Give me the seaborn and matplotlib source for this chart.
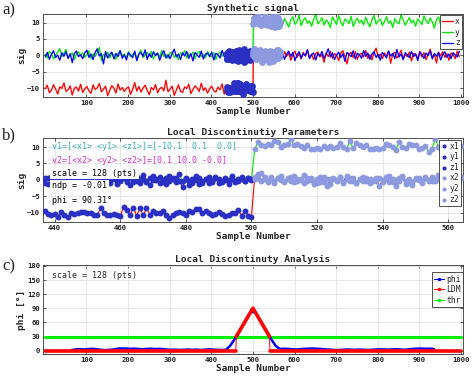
import numpy as np
import matplotlib
matplotlib.use("Agg")
import matplotlib.pyplot as plt
from matplotlib.lines import Line2D
import seaborn as sns

# ---------------- data ----------------
# panel a, outside the analysis windows (every 5th sample)
samples_left = np.arange(1, 436, 5)
samples_right = np.arange(566, 1001, 5)

x_left = [-10.2, -9.1, -11.4, -10.6, -8.9, -10.3, -11.8, -9.6, -10.1, -8.4, -11.0, -10.5, -9.3, -12.1, -10.0, -9.7, -10.9, -8.8, -11.3, -10.2,
          -9.5, -10.8, -11.6, -9.0, -10.4, -9.9, -8.6, -11.1, -10.3, -9.4, -12.3, -10.7, -9.2, -10.0, -11.5, -8.7, -10.6, -9.8, -11.0, -10.1,
          -9.6, -11.9, -10.4, -8.3, -10.9, -9.5, -11.2, -10.0, -9.1, -10.7, -12.0, -9.8, -10.5, -8.9, -11.4, -10.2, -9.7, -10.8, -7.6, -11.1,
          -10.3, -9.4, -12.2, -10.6, -9.0, -10.9, -11.3, -9.6, -10.1, -8.8, -11.7, -10.4, -9.3, -10.0, -11.0, -8.5, -10.7, -9.9, -11.5, -10.2,
          -9.4, -10.8, -11.2, -9.7, -10.5, -8.7, -11.8]
y_left = [0.3, -0.8, 1.2, 0.5, -1.1, 0.2, 0.9, 2.1, -0.4, 0.6, 1.8, -0.9, 0.1, 0.7, -1.3, 0.4, 1.1, -0.2, 0.8, -0.6,
          0.2, 1.4, -1.0, 0.5, -0.3, 0.9, 2.4, -1.6, 0.3, -0.5, 1.0, -0.8, 0.6, 0.2, -1.2, 0.7, 1.3, -0.1, 0.4, -0.9,
          1.1, -0.4, 0.3, 0.8, -1.4, 0.5, 1.6, -0.7, 0.1, 0.9, -0.2, 1.2, -1.1, 0.4, 0.6, -0.5, 1.5, -0.3, 0.2, -0.9,
          0.7, 1.0, -0.6, 0.3, -1.3, 0.8, 0.1, 1.4, -0.8, 0.5, -0.2, 0.9, -1.0, 0.6, 1.2, -0.4, 0.3, -0.7, 1.1, 0.2,
          -0.5, 0.8, -1.2, 0.4, 1.0, -0.3, 0.6]
z_left = [-0.5, 0.9, -1.2, 0.3, 1.4, -0.7, 0.1, -1.5, 0.8, -0.3, 1.1, -0.9, 0.5, -2.2, 0.6, 1.3, -0.4, 0.2, -1.0, 0.7,
          1.6, -0.6, 0.4, -1.3, 0.9, 2.0, -0.2, 0.5, -2.6, 1.2, -0.8, 0.3, 1.0, -1.1, 0.6, -0.4, 1.5, -0.9, 0.2, -1.4,
          0.8, 0.1, -0.7, 1.3, -1.6, 0.4, 0.9, -0.3, 1.7, -1.2, 0.5, -0.6, 1.1, -0.1, 0.7, -1.5, 0.3, 1.4, -0.8, 0.2,
          -1.0, 0.6, 1.9, -0.5, 0.4, -1.3, 0.8, -0.2, 1.2, -0.9, 0.5, -1.7, 0.9, 0.1, -0.6, 1.3, -1.1, 0.4, 0.7, -0.4,
          1.0, -1.4, 0.6, 0.2, -0.8, 1.5, -0.3]
x_right = [0.4, -0.9, 1.1, -0.3, 0.7, -1.5, 0.2, 1.3, -0.6, 0.5, -1.1, 0.9, -0.2, 1.6, -0.8, 0.3, -1.3, 0.6, 1.0, -0.5,
           0.2, -2.1, 0.8, -0.4, 1.2, -0.9, 0.5, 0.1, -1.6, 0.7, 1.4, -0.3, -2.6, 0.4, 0.9, -0.7, 1.1, -1.2, 0.3, 0.6,
           -0.5, 1.5, -0.9, 0.2, -1.4, 0.8, 2.2, -0.6, 0.4, -1.0, 0.7, -0.2, 1.3, -2.4, 0.5, 0.9, -0.8, 0.1, 1.6, -1.1,
           0.3, -0.4, 1.0, -1.7, 0.6, 0.2, -0.9, 1.2, -0.5, 0.8, -1.3, 0.4, 1.9, -0.7, 0.3, -2.3, 0.9, -0.1, 1.1, -0.6,
           0.5, -1.5, 0.7, 0.2, -1.0, 1.3, -0.4]
y_right = [10.4, 9.1, 11.2, 10.0, 8.6, 10.9, 11.8, 9.5, 10.2, 12.3, 9.0, 10.7, 11.4, 9.8, 10.5, 8.9, 11.0, 12.6, 9.6, 10.3,
           11.5, 9.2, 10.8, 10.1, 8.4, 11.7, 10.6, 9.4, 12.1, 10.2, 9.0, 11.1, 10.5, 9.7, 11.9, 8.8, 10.4, 11.3, 9.9, 10.7,
           9.3, 11.6, 10.0, 8.7, 10.9, 12.2, 9.5, 10.6, 11.0, 9.1, 10.3, 11.8, 9.8, 10.5, 8.5, 11.2, 10.1, 9.6, 12.4, 10.8,
           9.2, 10.4, 11.5, 9.9, 10.7, 8.9, 11.1, 10.3, 9.4, 12.0, 10.6, 9.7, 11.4, 10.2, 8.3, 10.9, 11.7, 9.5, 10.1, 12.5,
           9.0, 10.6, 11.3, 9.8, 7.9, 10.4, 11.0]
z_right = [-0.6, 0.8, -1.2, 0.4, 1.3, -0.3, 0.9, -1.6, 0.2, 1.1, -0.8, 0.5, -0.1, 1.7, -1.0, 0.3, 0.7, -1.4, 0.6, -0.2,
           1.2, -0.9, 0.4, 2.0, -0.5, 0.8, -1.3, 0.1, 1.0, -0.7, 0.5, -1.8, 0.9, 0.3, -0.4, 1.4, -1.1, 0.6, 0.2, -0.9,
           1.5, -0.3, 0.7, -1.2, 0.4, 1.1, -0.6, 0.3, -1.5, 0.9, 0.1, -0.8, 1.3, -0.2, 0.6, -1.0, 1.8, -0.5, 0.4, -1.3,
           0.8, 0.2, -0.7, 1.2, -0.4, 0.5, -1.6, 1.0, 0.3, -0.9, 0.7, -0.1, 1.4, -1.1, 0.6, -0.3, 0.9, -1.4, 0.2, 1.1,
           -0.6, 0.4, -1.0, 0.8, 0.1, -0.5, 1.2]

# analysis windows (every sample), window 1 = 437..500, window 2 = 501..564
win1 = np.arange(437, 501)
win2 = np.arange(501, 565)

x1 = [-9.5, -10.5, -10.8, -10.5, -11.3, -9.8, -10.8, -11.2, -10.2, -10.3, -10.0, -9.8, -9.8, -10.2, -10.0, -10.6, -10.8, -8.5, -10.2, -10.7,
      -10.6, -10.4, -10.8, -11.0, -8.4, -9.3, -10.8, -8.5, -10.9, -8.7, -10.8, -8.6, -10.6, -9.4, -10.2, -10.0, -9.6, -10.6, -11.8, -10.6,
      -10.2, -9.9, -10.1, -10.6, -9.4, -9.8, -8.9, -8.8, -10.0, -9.4, -10.0, -10.6, -10.4, -9.8, -10.3, -10.9, -10.6, -10.2, -10.0, -9.3,
      -10.9, -9.4, -10.9, -11.2]
y1 = [0.6, 0.5, 0.8, 0.2, -0.3, 0.9, 1.2, 0.4, -0.5, 0.7, 1.0, 0.3, -0.2, 0.8, 0.5, 1.1, -0.4, 0.6, 0.2, 0.9,
      0.3, 0.5, -0.1, 1.4, 0.7, 0.2, 1.0, -0.6, 0.8, 0.4, 1.6, -0.3, 0.5, 1.2, 0.1, 0.9, -0.8, 0.6, 1.3, 0.2,
      0.7, 1.8, -0.4, 0.5, -1.7, 0.3, 1.1, 0.6, -0.9, 0.4, 1.0, -0.2, 0.8, 0.3, -0.7, 0.6, 0.1, 1.2, -0.5, 0.4,
      0.9, -0.3, 0.5, 0.2]
z1 = [-1.0, -1.2, -0.9, -1.1, 0.2, -0.6, -0.2, 0.5, -1.0, 0.3, -0.8, 0.1, -1.3, 0.4, -0.5, -0.9, 0.6, -1.1, 0.0, -0.4,
      -0.9, 0.2, -1.4, -0.3, 0.5, -0.7, -1.6, 0.1, -0.2, -1.0, 0.3, -0.6, -1.5, -0.1, 0.4, -0.9, 0.0, -1.2, -0.4, 0.6,
      -0.8, -0.3, -2.1, 0.2, -0.5, -1.0, 0.1, -1.4, -0.2, 0.3, -0.9, -0.6, 0.5, -1.1, -0.3, 0.0, -1.3, 0.4, -0.7, -0.2,
      0.3, -0.5, 0.6, 0.1]
x2 = [1.0, 0.5, 2.0, 0.3, -0.5, 0.8, -0.2, 0.6, 1.2, -0.4, 0.2, 0.9, -0.8, 0.4, 0.1, 1.5, -0.3, 0.6, -1.2, 0.3,
      -0.6, 0.8, -1.9, 0.2, 0.5, -0.4, 1.0, -0.9, 0.3, 0.7, -0.2, -1.1, 0.4, 0.9, -0.5, 0.2, -0.3, 0.6, -2.0, 0.1,
      0.8, -0.6, 0.3, -1.8, 0.5, 1.1, -0.4, -0.7, -1.6, 0.2, 0.6, -0.3, 0.9, 0.0, -0.5, 0.4, 1.6, -0.2, 0.7, -0.8,
      0.3, -0.4, 1.0, 0.5]
y2 = [9.5, 11.5, 10.5, 10.2, 11.0, 10.8, 11.8, 11.5, 10.0, 10.5, 11.0, 12.5, 10.5, 11.0, 10.4, 9.8, 10.6, 9.5, 9.4, 9.8,
      9.5, 10.2, 9.8, 10.4, 9.8, 10.0, 11.2, 10.0, 9.5, 12.0, 9.6, 11.2, 10.5, 10.0, 10.5, 9.5, 9.3, 9.6, 9.5, 9.6,
      11.0, 10.6, 10.0, 9.0, 11.6, 10.0, 9.8, 11.0, 10.8, 10.6, 9.5, 9.8, 10.2, 8.6, 9.5, 12.5, 10.0, 9.0, 8.8, 10.5,
      11.5, 9.0, 10.0, 10.2]
z2 = [0.2, 1.8, -0.3, 0.9, -0.6, 0.4, -1.0, 0.7, 0.1, -0.8, 0.5, -0.2, 1.1, -0.5, 0.3, -0.9, 0.6, 0.0, -0.4, -1.1,
      0.8, -0.7, 0.2, -1.3, 0.4, -0.1, 0.9, -0.6, 1.3, -0.3, 0.5, -0.9, 0.2, -0.5, 0.7, -1.0, 0.1, -0.4, 0.6, -0.8,
      0.3, 1.2, -0.6, 0.0, -0.3, 0.8, -1.2, 0.4, -0.7, 0.5, 0.1, -0.9, 0.6, -0.2, 1.0, -0.5, 0.3, -0.8, 0.4, 1.5,
      -0.3, 0.2, -0.6, 0.9]

# panel c
phi_samples = np.arange(65, 936, 10)
phi = [1.5, 2.8, 3.2, 2.5, 3.6, 4.0, 3.1, 2.0, 1.2, 1.8, 2.6, 4.2, 4.8, 4.5, 3.9, 4.4, 3.6, 3.0, 3.8, 4.1,
       3.5, 3.9, 3.2, 2.4, 1.9, 2.2, 1.6, 2.0, 2.5, 1.8, 2.3, 1.5, 2.1, 2.8, 2.2, 1.9, 1.4, 2.0,
       10, 23, 37, 52, 67, 82, 82, 67, 52, 37, 23, 10,
       3.5, 4.2, 3.8, 3.0, 2.6, 3.4, 4.0, 4.3, 4.6, 4.1, 3.5, 2.8, 2.2, 1.6, 1.3, 1.9, 2.6, 2.2, 1.8, 2.4,
       2.0, 1.5, 1.8, 2.5, 3.0, 2.6, 2.1, 2.7, 3.2, 2.4, 2.0, 2.9, 3.8, 4.3, 4.6, 4.0, 4.4, 3.6]
ldm_samples = [1, 459, 460, 500, 540, 541, 1000]
ldm = [0, 0, 30, 90.31, 30, 0, 0]
thr_samples = [1, 1000]
thr = [30, 30]

# ---------------- figure ----------------
sns.set_theme(style="ticks")
plt.rcParams['font.family'] = ['DejaVu Sans Mono']

RED, GREEN, BLUE = '#ff0000', '#00e600', '#0000ff'
W1, W2 = '#2b30c4', '#8e9ae0'

fig = plt.figure(figsize=(4.74, 3.79), dpi=100)
ax_a = fig.add_axes([0.091, 0.744, 0.886, 0.219])
ax_b = fig.add_axes([0.091, 0.414, 0.886, 0.222])
ax_c = fig.add_axes([0.091, 0.066, 0.886, 0.235])


def style_axes(ax, title, xlim, ylim, xticks, yticks, ylabel):
    ax.set_xlim(xlim)
    ax.set_ylim(ylim)
    ax.set_xticks(xticks)
    ax.set_yticks(yticks)
    ax.grid(True, color='#e2e2e2', lw=0.6)
    ax.set_axisbelow(True)
    for s in ax.spines.values():
        s.set_visible(True)
        s.set_color('#333333')
        s.set_linewidth(0.6)
    ax.tick_params(direction='in', length=2.5, width=0.5, top=True, right=True,
                   labelsize=5.2, pad=2, colors='#222222')
    for lab in ax.get_xticklabels() + ax.get_yticklabels():
        lab.set_fontweight('bold')
    ax.set_title(title, fontsize=6.8, fontweight='bold', pad=2)
    ax.set_xlabel('Sample Number', fontsize=6.8, fontweight='bold', labelpad=1)
    ax.set_ylabel(ylabel, fontsize=6.8, fontweight='bold', labelpad=1)


def small_legend(ax, **kw):
    leg = ax.legend(fontsize=5.8, handletextpad=0.3, borderpad=0.25, labelspacing=0.2,
                    fancybox=False, edgecolor='#333333', framealpha=1, **kw)
    leg.get_frame().set_linewidth(0.6)
    return leg


# ---- a) synthetic signal ----
s_all = np.concatenate([samples_left, win1, win2, samples_right])
x_all = np.concatenate([x_left, x1, x2, x_right])
y_all = np.concatenate([y_left, y1, y2, y_right])
z_all = np.concatenate([z_left, z1, z2, z_right])

for vals, col, name in [(x_all, RED, 'x'), (y_all, GREEN, 'y'), (z_all, BLUE, 'z')]:
    sns.lineplot(x=s_all, y=vals, ax=ax_a, color=col, lw=0.95, label=name,
                 estimator=None, sort=False)
for vals in (x1, y1, z1):
    sns.scatterplot(x=win1, y=vals, ax=ax_a, color=W1, s=24, linewidth=0, zorder=4)
for vals in (x2, y2, z2):
    sns.scatterplot(x=win2, y=vals, ax=ax_a, color=W2, s=24, linewidth=0, zorder=4)
style_axes(ax_a, 'Synthetic signal', (-4, 1005), (-12.7, 12.6),
           range(100, 1001, 100), [-10, -5, 0, 5, 10], 'sig')
small_legend(ax_a, loc='upper right', handlelength=1.3, borderaxespad=0.15)

# ---- b) local discontinuity parameters ----
wins = np.concatenate([win1, win2])
for vals, col in [(x1 + x2, RED), (y1 + y2, GREEN), (z1 + z2, BLUE)]:
    sns.lineplot(x=wins, y=vals, ax=ax_b, color=col, lw=0.8, estimator=None, sort=False)
for vals, name in [(x1, 'x1'), (y1, 'y1'), (z1, 'z1')]:
    sns.scatterplot(x=win1, y=vals, ax=ax_b, color=W1, s=18, linewidth=0, zorder=4, label=name)
for vals, name in [(x2, 'x2'), (y2, 'y2'), (z2, 'z2')]:
    sns.scatterplot(x=win2, y=vals, ax=ax_b, color=W2, s=18, linewidth=0, zorder=4, label=name)
style_axes(ax_b, 'Local Discontinutiy Parameters', (436.5, 564.5), (-12.9, 12.8),
           range(440, 561, 20), [-10, -5, 0, 5, 10], 'sig')
small_legend(ax_b, loc='upper right', handlelength=0.8, borderaxespad=0.2, markerscale=0.7)

txt = dict(transform=ax_b.transAxes, fontsize=6, va='center', ha='left', zorder=6)
ax_b.text(0.021, 0.893, 'v1=[<x1> <y1> <z1>]=[-10.1  0.1  0.0]', color='#3fb0b8', **txt)
ax_b.text(0.021, 0.738, 'v2=[<x2> <y2> <z2>]=[0.1 10.0 -0.0]', color='#d030d0', **txt)
box = dict(facecolor='white', edgecolor='none', pad=1.2)
ax_b.text(0.021, 0.583, 'scale = 128 (pts)', color='black', bbox=box, **txt)
ax_b.text(0.021, 0.429, 'ndp = -0.01', color='black', bbox=box, **txt)
ax_b.text(0.021, 0.262, 'phi = 90.31°', color='black', **txt)

# ---- c) local discontinuity analysis ----
sns.lineplot(x=thr_samples, y=thr, ax=ax_c, color='#00ee00', lw=2.2, estimator=None)
sns.lineplot(x=phi_samples, y=phi, ax=ax_c, color=BLUE, lw=1.8, estimator=None)
sns.lineplot(x=ldm_samples, y=ldm, ax=ax_c, color=RED, lw=0.7, estimator=None, sort=False)
for a, b in [(0, 2), (2, 5), (5, 7)]:
    sns.lineplot(x=ldm_samples[a:b], y=ldm[a:b], ax=ax_c, color=RED, lw=2.6,
                 estimator=None, sort=False)
style_axes(ax_c, 'Local Discontinuty Analysis', (-4, 1005), (-7, 182),
           range(100, 1001, 100), range(0, 181, 30), 'phi [°]')
ax_c.text(0.021, 0.88, 'scale = 128 (pts)', transform=ax_c.transAxes, fontsize=6,
          va='center', ha='left')
handles = [Line2D([], [], color=BLUE, lw=0.8, marker='.', ms=3),
           Line2D([], [], color=RED, lw=0.8, marker='.', ms=3),
           Line2D([], [], color='#00ee00', lw=0.8, marker='.', ms=3)]
leg = ax_c.legend(handles, ['phi', 'LDM', 'thr'], loc='upper right', bbox_to_anchor=(1.0, 0.915),
                  fontsize=5.8, handlelength=1.3, handletextpad=0.3, borderpad=0.25,
                  labelspacing=0.2, borderaxespad=0.0, fancybox=False,
                  edgecolor='#333333', framealpha=1)
leg.get_frame().set_linewidth(0.6)

# panel letters
for y, s in [(0.972, 'a)'), (0.643, 'b)'), (0.298, 'c)')]:
    fig.text(0.004, y, s, family='Liberation Serif', fontsize=12, va='center', ha='left')

fig.savefig('out.png', dpi=100)
